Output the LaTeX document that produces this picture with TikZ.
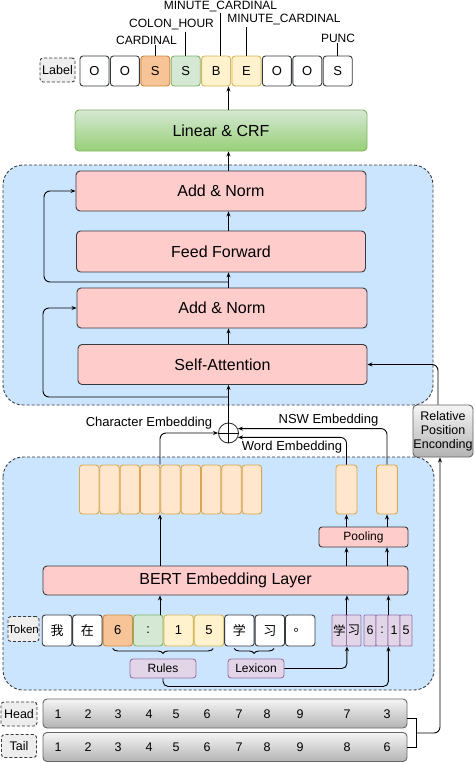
\documentclass[tikz,border=0pt]{standalone}
\usepackage{fontspec}
\setmainfont{Liberation Sans}
\newfontfamily\cjk{Noto Sans CJK SC}
\usetikzlibrary{arrows.meta,calc,decorations.pathreplacing}
\definecolor{bluebg}{HTML}{CCE5FF}
\definecolor{linedark}{HTML}{36393D}
\definecolor{pinkfill}{HTML}{FFCCCC}
\definecolor{tagfill}{HTML}{EEEEEE}
\definecolor{orfill}{HTML}{F7C497}
\definecolor{ordraw}{HTML}{D08A40}
\definecolor{grfill}{HTML}{D5E8D4}
\definecolor{grdraw}{HTML}{82B366}
\definecolor{yefill}{HTML}{FFF2CC}
\definecolor{yedraw}{HTML}{D6B656}
\definecolor{embfill}{HTML}{FFE6CC}
\definecolor{embdraw}{HTML}{DDA64C}
\definecolor{pufill}{HTML}{E1D5E7}
\definecolor{pudraw}{HTML}{9673A6}
\definecolor{crftop}{HTML}{D5E8D4}
\definecolor{crfbot}{HTML}{97D077}
\definecolor{grtop}{HTML}{F5F5F5}
\definecolor{grbot}{HTML}{B3B3B3}
\definecolor{graydraw}{HTML}{666666}
\newcommand\fsz[1]{\fontsize{#1}{#1}\selectfont}
\begin{document}
\begin{tikzpicture}[x=1pt,y=-1pt,
  arr/.style={-{Stealth[length=5pt,width=4pt]},line width=0.9pt},
  blk/.style={draw=linedark,line width=0.9pt,rounded corners=4pt,inner sep=0pt},
  pinkbox/.style={blk,fill=pinkfill,font=\fsz{16}},
  purplebox/.style={blk,rounded corners=3pt,fill=pufill,draw=pudraw,font=\fsz{12}},
  labcell/.style={blk,rounded corners=3pt,minimum width=29pt,minimum height=30pt,font=\fsz{13}},
  subcell/.style={draw=pudraw,fill=pufill,line width=0.8pt,rounded corners=1pt,minimum height=31pt,inner sep=0pt,font=\fsz{12.5}},
  embcell/.style={draw=embdraw,fill=embfill,line width=0.9pt,rounded corners=3pt,minimum width=19.5pt,minimum height=49pt},
  tagbox/.style={draw=linedark,dashed,dash pattern=on 3pt off 2pt,fill=tagfill,line width=0.9pt,rounded corners=3pt,inner sep=0pt,font=\fsz{12.5}},
  bluebox/.style={draw=linedark,dash pattern=on 3pt off 2pt,fill=bluebg,line width=0.9pt,rounded corners=20pt},
  graybar/.style={blk,top color=grtop,bottom color=grbot,draw=graydraw},
  toptext/.style={font=\fsz{12},inner sep=1pt},
  numtext/.style={font=\fsz{12.5},inner sep=0pt}]
\useasboundingbox (0,0) rectangle (474,763);
%
% Fonds bleus
\draw[bluebox] (3,165) rectangle (433,405);
\draw[bluebox] (3,457) rectangle (434,690);
%
% Colonnes
\coordinate (spine) at (228.5,0);
\coordinate (cx)    at (160,0);
%
% Etiquettes
\node[tagbox,minimum width=35pt,minimum height=24pt] (labeltag) at (57.5,70) {Label};
\foreach \t/\f/\d [count=\i] in {O/white/linedark,O/white/linedark,S/orfill/ordraw,S/grfill/grdraw,B/yefill/yedraw,E/yefill/yedraw,O/white/linedark,O/white/linedark,S/white/linedark}
  \node[labcell,fill=\f,draw=\d] (l\i) at ({94.5+30.4*(\i-1)},71) {\t};
\node[toptext] (cardinal) at (146.5,40)  {CARDINAL};
\node[toptext] (colon)    at (171.5,25)  {COLON\_HOUR};
\node[toptext] (minute1)  at (220.5,6.5) {MINUTE\_CARDINAL};
\node[toptext] (minute2)  at (284,20)    {MINUTE\_CARDINAL};
\node[toptext] (punc)     at (338,38)    {PUNC};
\coordinate (m1) at ([xshift=4pt]l5.north);
\draw[line width=0.9pt] (l3.north) -- (l3.north |- cardinal.south);
\draw[line width=0.9pt] (l4.north) -- (l4.north |- colon.south);
\draw[line width=0.9pt] (m1) -- (m1 |- minute1.south);
\draw[line width=0.9pt] (l6.north) -- (l6.north |- minute2.south);
\draw[line width=0.9pt] (l9.north) -- (l9.north |- punc.south);
%
% Linear & CRF
\node[blk,top color=crftop,bottom color=crfbot,draw=grdraw,minimum width=292pt,minimum height=41pt,font=\fsz{16}] (crf) at (221,130.5) {Linear \& CRF};
\draw[arr] (crf.north -| spine) -- (l5.south -| spine);
%
% Encodeur
\node[pinkbox,minimum width=290pt,minimum height=40pt] (an2) at (221,191)   {Add \& Norm};
\node[pinkbox,minimum width=289pt,minimum height=41pt] (ff)  at (221,251.5) {Feed Forward};
\node[pinkbox,minimum width=290pt,minimum height=40pt] (an1) at (222,308)   {Add \& Norm};
\node[pinkbox,minimum width=289pt,minimum height=40pt] (sa)  at (222.5,364.5) {Self-Attention};
\draw[arr] (an2.north -| spine) -- (crf.south -| spine);
\draw[arr] (ff.north -| spine)  -- (an2.south -| spine);
\draw[arr] (an1.north -| spine) -- (ff.south -| spine);
\draw[arr] (sa.north -| spine)  -- (an1.south -| spine);
\coordinate (res1) at (228.5,282);
\coordinate (res2) at (228.5,397);
\draw[arr,rounded corners=6pt] (res1) -- ++(-184.5,0) |- (an2.west);
\draw[arr,rounded corners=6pt] (res2) -- ++(-185.5,0) |- (an1.west);
%
% Position relative
\node[blk,top color=grtop,bottom color=grbot,draw=graydraw,minimum width=60pt,minimum height=52pt,align=center,font=\fontsize{12.5}{14}\selectfont] (rpe) at (443,431) {Relative\\Position\\Enconding};
\draw[arr,rounded corners=6pt] ([xshift=-5pt]rpe.north) |- (sa.east);
%
% Somme
\node[circle,draw=linedark,line width=0.9pt,minimum size=20pt,inner sep=0pt] (sum) at (228.5,433) {};
\draw[line width=0.9pt] (sum.north) -- (sum.south) (sum.west) -- (sum.east);
\draw[arr] (sum.north) -- (sa.south -| spine);
\node[font=\fsz{13}] (charlab) at (149,423)   {Character Embedding};
\node[font=\fsz{13}] (nswlab)  at (328.5,420) {NSW Embedding};
\node[font=\fsz{13}] (wordlab) at (292,447)   {Word Embedding};
%
% Plongements
\foreach \i in {1,...,9}
  \node[embcell] (e\i) at ({89.2+20.33*(\i-1)},489.5) {};
\node[embcell,minimum width=21pt] (w1) at (346.5,489.5) {};
\node[embcell,minimum width=21pt] (w2) at (387,489.5) {};
\draw[arr,rounded corners=6pt] (e5.north -| cx) |- (sum.west);
\draw[arr,rounded corners=6pt] (w2.north) |- (sum.25);
\draw[arr,rounded corners=6pt] (w1.north) |- (sum.-25);
%
% Pooling & BERT
\node[pinkbox,rounded corners=3pt,minimum width=89pt,minimum height=20pt,font=\fsz{12}] (pool) at (363.5,537) {Pooling};
\node[pinkbox,minimum width=365pt,minimum height=29pt] (bert) at (225.5,580.5) {BERT Embedding Layer};
\draw[arr] (pool.north -| w1) -- (w1.south);
\draw[arr] (pool.north -| w2) -- (w2.south);
\draw[arr] (bert.north -| w1) -- (pool.south -| w1);
\draw[arr] (bert.north -| w2) -- (pool.south -| w2);
\draw[arr] (bert.north -| cx) -- (e5.south -| cx);
%
% Jetons
\node[tagbox,minimum width=31pt,minimum height=25pt,font=\fsz{11.5}] (tokentag) at (23.5,629) {Token};
\foreach \t/\f/\d [count=\i] in {{\cjk 我}/white/linedark,{\cjk 在}/white/linedark,6/orfill/ordraw,:/grfill/grdraw,1/yefill/yedraw,5/yefill/yedraw,{\cjk 学}/white/linedark,{\cjk 习}/white/linedark,{\cjk 。}/white/linedark}
  \node[labcell,fill=\f,draw=\d,minimum width=29.5pt,minimum height=31pt] (t\i) at ({57+30.4*(\i-1)},630.5) {\t};
\foreach \t/\xc [count=\i] in {学/339.25,习/353.75}
  \node[subcell,minimum width=14.5pt] (s\i) at (\xc,630.5) {\cjk\t};
\foreach \t/\xc [count=\i] in {6/370,:/382,1/394,5/406}
  \node[subcell,minimum width=12pt] (n\i) at (\xc,630.5) {\t};
\draw[arr] (t4.north -| cx) -- (bert.south -| cx);
\draw[arr] (s1.north east) -- (bert.south -| s1.north east);
\draw[arr] (n2.north east) -- (bert.south -| n2.north east);
%
% Regles et lexique
\draw[line width=0.9pt,decorate,decoration={brace,amplitude=5pt}] ($(t6.south east)+(-11,2)$) -- ($(t3.south west)+(10,2)$);
\draw[line width=0.9pt,decorate,decoration={brace,amplitude=5pt}] ($(t8.south east)+(-11,2)$) -- ($(t7.south west)+(10,2)$);
\node[purplebox,minimum width=66pt,minimum height=19pt] (rules)   at (163,668.5) {Rules};
\node[purplebox,minimum width=56pt,minimum height=19pt] (lexicon) at (256,668.5) {Lexicon};
\draw[arr,rounded corners=5pt] (lexicon.east) -| (s1.south east);
\draw[arr,rounded corners=5pt] (rules.south) -- ++(0,8) -| (n2.south east);
%
% Head / Tail
\node[tagbox,minimum width=36pt,minimum height=24pt] (headtag) at (19,714) {Head};
\node[tagbox,minimum width=35pt,minimum height=23pt] (tailtag) at (19,746) {Tail};
\node[graybar,minimum width=364pt,minimum height=29pt] (head) at (225,713.5) {};
\node[graybar,minimum width=364pt,minimum height=29pt] (tail) at (225,747) {};
\foreach \n/\xc [count=\i] in {1/58,2/88,3/118,4/149,5/176,6/207,7/239,8/267,9/300,7/347,3/387}
  \node[numtext] (hd\i) at (\xc,714) {\n};
\foreach \n/\xc [count=\i] in {1/58,2/88,3/118,4/149,5/176,6/207,7/239,8/267,9/300,8/347,6/387}
  \node[numtext] (tl\i) at (\xc,747) {\n};
\coordinate (hbr)  at ([yshift=-5pt]head.east);
\coordinate (hmid) at (416,733);
\draw[line width=0.9pt] (hbr) -- ++(9,0) |- (tail.east);
\draw[arr,rounded corners=6pt] (hmid) -| ([xshift=-3pt]rpe.south);
%
\end{tikzpicture}
\end{document}
